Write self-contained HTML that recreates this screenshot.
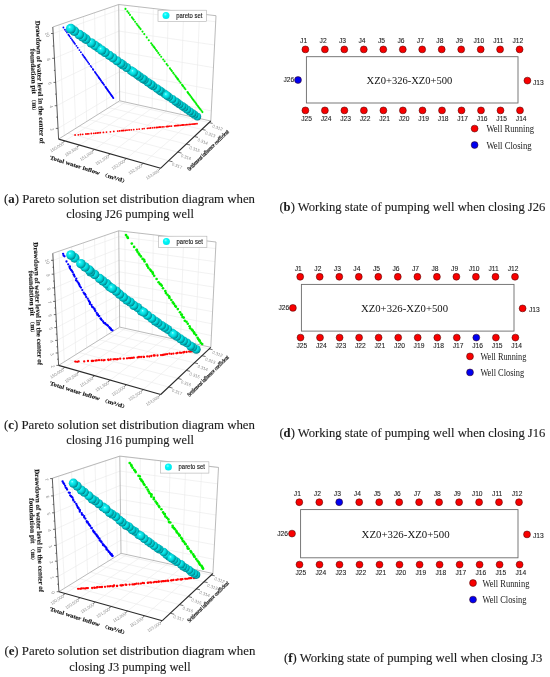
<!DOCTYPE html>
<html><head><meta charset="utf-8"><title>Pareto solution sets and pumping well states</title>
<style>html,body{margin:0;padding:0;background:#fff;}body{width:550px;height:677px;overflow:hidden;}svg{display:block;}</style>
</head><body>
<svg width="550" height="677" viewBox="0 0 550 677">
<rect width="550" height="677" fill="#fff"/>
<defs>
<radialGradient id="sph" cx="0.42" cy="0.4" r="0.62" fx="0.36" fy="0.32">
<stop offset="0" stop-color="#b0ffff"/><stop offset="0.22" stop-color="#18f2f4"/><stop offset="0.6" stop-color="#00d4d8"/><stop offset="0.86" stop-color="#009ca4"/><stop offset="1" stop-color="#00747c"/>
</radialGradient>
<radialGradient id="sph2" cx="0.4" cy="0.35" r="0.7">
<stop offset="0" stop-color="#80ffff"/><stop offset="0.35" stop-color="#00f8f8"/><stop offset="1" stop-color="#00e4ea"/>
</radialGradient>
</defs>
<g stroke="#eaeaea" stroke-width="0.6"><line x1="53.2" y1="33.5" x2="118.7" y2="10.0" /><line x1="118.7" y1="10.0" x2="215.7" y2="21.8" /><line x1="54.4" y1="58.3" x2="119.0" y2="31.1" /><line x1="119.0" y1="31.1" x2="214.5" y2="45.0" /><line x1="55.7" y1="82.4" x2="119.2" y2="51.8" /><line x1="119.2" y1="51.8" x2="213.4" y2="67.6" /><line x1="56.9" y1="105.7" x2="119.4" y2="71.9" /><line x1="119.4" y1="71.9" x2="212.3" y2="89.6" /><line x1="58.0" y1="128.4" x2="119.6" y2="91.5" /><line x1="119.6" y1="91.5" x2="211.3" y2="110.9" /><line x1="125.5" y1="102.1" x2="124.9" y2="5.2" /><line x1="125.5" y1="102.1" x2="65.0" y2="140.9" /><line x1="138.7" y1="105.0" x2="138.9" y2="6.8" /><line x1="138.7" y1="105.0" x2="79.6" y2="145.1" /><line x1="152.2" y1="108.0" x2="153.3" y2="8.5" /><line x1="152.2" y1="108.0" x2="94.7" y2="149.4" /><line x1="166.2" y1="111.1" x2="168.2" y2="10.2" /><line x1="166.2" y1="111.1" x2="110.3" y2="153.8" /><line x1="180.6" y1="114.3" x2="183.6" y2="12.0" /><line x1="180.6" y1="114.3" x2="126.5" y2="158.4" /><line x1="195.5" y1="117.6" x2="199.5" y2="13.8" /><line x1="195.5" y1="117.6" x2="143.3" y2="163.2" /><line x1="117.6" y1="102.1" x2="209.1" y2="122.6" /><line x1="108.7" y1="107.6" x2="201.9" y2="129.4" /><line x1="99.4" y1="113.5" x2="194.4" y2="136.5" /><line x1="89.5" y1="119.7" x2="186.3" y2="144.1" /><line x1="79.1" y1="126.2" x2="177.7" y2="152.1" /><line x1="68.1" y1="133.2" x2="168.6" y2="160.7" /><line x1="116.0" y1="103.1" x2="114.8" y2="5.8" /><line x1="106.8" y1="108.9" x2="104.9" y2="9.2" /><line x1="97.0" y1="115.0" x2="94.5" y2="12.8" /><line x1="86.7" y1="121.4" x2="83.4" y2="16.6" /><line x1="75.8" y1="128.3" x2="71.6" y2="20.6" /><line x1="64.3" y1="135.6" x2="59.0" y2="24.9" /></g>
<g stroke="#a4a4a4" stroke-width="0.75"><line x1="52.8" y1="27.0" x2="118.7" y2="4.5" /><line x1="118.7" y1="4.5" x2="216.0" y2="15.7" /><line x1="216.0" y1="15.7" x2="210.8" y2="121.0" /><line x1="119.7" y1="100.8" x2="118.7" y2="4.5" /><line x1="119.7" y1="100.8" x2="58.6" y2="139.1" /><line x1="119.7" y1="100.8" x2="210.8" y2="121.0" /></g>
<line x1="58.6" y1="139.1" x2="52.8" y2="27.0" stroke="#4a4a4a" stroke-width="0.9"/>
<line x1="58.6" y1="139.1" x2="160.7" y2="168.2" stroke="#2a2a2a" stroke-width="1.1"/>
<line x1="160.7" y1="168.2" x2="210.8" y2="121.0" stroke="#2a2a2a" stroke-width="1.1"/>
<g stroke="#333" stroke-width="0.7"><line x1="51.0" y1="33.5" x2="53.2" y2="33.5"/><line x1="52.2" y1="58.3" x2="54.4" y2="58.3"/><line x1="53.5" y1="82.4" x2="55.7" y2="82.4"/><line x1="54.7" y1="105.7" x2="56.9" y2="105.7"/><line x1="55.8" y1="128.4" x2="58.0" y2="128.4"/><line x1="56.2" y1="117.1" x2="57.4" y2="117.1"/><line x1="55.1" y1="94.1" x2="56.3" y2="94.1"/><line x1="53.9" y1="70.4" x2="55.1" y2="70.4"/><line x1="52.6" y1="46.0" x2="53.8" y2="46.0"/><line x1="65.0" y1="140.9" x2="62.5" y2="142.6"/><line x1="79.6" y1="145.1" x2="77.1" y2="146.8"/><line x1="94.7" y1="149.4" x2="92.2" y2="151.1"/><line x1="110.3" y1="153.8" x2="107.9" y2="155.6"/><line x1="126.5" y1="158.4" x2="124.2" y2="160.3"/><line x1="143.3" y1="163.2" x2="141.1" y2="165.1"/><line x1="160.7" y1="168.2" x2="158.6" y2="170.2"/><line x1="209.1" y1="122.6" x2="212.6" y2="123.4"/><line x1="201.9" y1="129.4" x2="205.6" y2="130.2"/><line x1="194.4" y1="136.5" x2="198.0" y2="137.4"/><line x1="186.3" y1="144.1" x2="190.1" y2="145.0"/><line x1="177.7" y1="152.1" x2="181.6" y2="153.1"/><line x1="168.6" y1="160.7" x2="172.6" y2="161.8"/></g>
<g fill="#8c8c8c" font-family="Liberation Sans, sans-serif" font-size="4.3"><text transform="translate(46.0,35.1) rotate(70)" text-anchor="middle" font-size="4.6">10</text><text transform="translate(47.2,59.9) rotate(70)" text-anchor="middle" font-size="4.6">8</text><text transform="translate(48.5,84.0) rotate(70)" text-anchor="middle" font-size="4.6">6</text><text transform="translate(49.7,107.3) rotate(70)" text-anchor="middle" font-size="4.6">4</text><text transform="translate(50.8,130.0) rotate(70)" text-anchor="middle" font-size="4.6">2</text><text transform="translate(64.0,144.5) rotate(-32)" text-anchor="end" textLength="15" lengthAdjust="spacingAndGlyphs">150,000</text><text transform="translate(78.6,148.7) rotate(-32)" text-anchor="end" textLength="15" lengthAdjust="spacingAndGlyphs">150,500</text><text transform="translate(93.7,153.0) rotate(-32)" text-anchor="end" textLength="15" lengthAdjust="spacingAndGlyphs">151,000</text><text transform="translate(109.3,157.4) rotate(-32)" text-anchor="end" textLength="15" lengthAdjust="spacingAndGlyphs">151,500</text><text transform="translate(125.5,162.0) rotate(-32)" text-anchor="end" textLength="15" lengthAdjust="spacingAndGlyphs">152,000</text><text transform="translate(142.3,166.8) rotate(-32)" text-anchor="end" textLength="15" lengthAdjust="spacingAndGlyphs">152,500</text><text transform="translate(159.7,171.8) rotate(-32)" text-anchor="end" textLength="15" lengthAdjust="spacingAndGlyphs">153,000</text><text transform="translate(211.9,127.2) rotate(20)">0.312</text><text transform="translate(204.7,134.0) rotate(20)">0.313</text><text transform="translate(197.2,141.1) rotate(20)">0.314</text><text transform="translate(189.1,148.7) rotate(20)">0.315</text><text transform="translate(180.5,156.7) rotate(20)">0.316</text><text transform="translate(171.4,165.3) rotate(20)">0.317</text></g>
<g font-family="Liberation Serif, Noto Serif CJK SC, serif" font-weight="bold" font-size="6.8" fill="#1a1a1a" stroke="#1a1a1a" stroke-width="0.15"><text transform="translate(35.6,20.8) rotate(88)" textLength="123" lengthAdjust="spacingAndGlyphs">Drawdown of water level in the center of</text><text transform="translate(30.4,48.7) rotate(88)" textLength="65" lengthAdjust="spacingAndGlyphs">foundation pit<tspan font-size="4.8" font-weight="normal" dx="2.5">（</tspan>m<tspan font-size="4.8" font-weight="normal">）</tspan></text><g transform="translate(49.6,159.2) rotate(17.5)" font-size="5.6"><text textLength="52" lengthAdjust="spacingAndGlyphs">Total water inflow</text><text x="54.2" textLength="27.5" lengthAdjust="spacingAndGlyphs"><tspan font-size="4.6" font-weight="normal">（</tspan>m³/d<tspan font-size="4.6" font-weight="normal">）</tspan></text></g><text transform="translate(189.4,171.3) rotate(-44.5)" font-size="6" textLength="56" lengthAdjust="spacingAndGlyphs">Settlement influence coefficient</text></g>
<g fill="#0000ff"><circle cx="63.4" cy="27.5" r="0.9"/><circle cx="64.9" cy="29.7" r="0.9"/><circle cx="67.0" cy="32.6" r="0.9"/><circle cx="68.4" cy="34.7" r="0.9"/><circle cx="69.8" cy="36.6" r="0.9"/><circle cx="72.0" cy="39.7" r="0.9"/><circle cx="73.6" cy="41.9" r="0.9"/><circle cx="75.0" cy="43.9" r="0.9"/><circle cx="76.4" cy="45.8" r="0.9"/><circle cx="77.7" cy="47.7" r="0.9"/><circle cx="79.4" cy="50.1" r="0.9"/><circle cx="80.9" cy="52.2" r="0.9"/><circle cx="82.5" cy="54.5" r="0.9"/><circle cx="84.1" cy="56.8" r="0.9"/><circle cx="85.1" cy="58.1" r="0.9"/><circle cx="86.5" cy="60.1" r="0.9"/><circle cx="88.2" cy="62.6" r="0.9"/><circle cx="89.2" cy="64.0" r="0.9"/><circle cx="90.6" cy="65.9" r="0.9"/><circle cx="91.5" cy="67.1" r="0.9"/><circle cx="92.8" cy="69.0" r="0.9"/><circle cx="93.4" cy="69.9" r="0.9"/><circle cx="94.8" cy="71.8" r="0.9"/><circle cx="96.0" cy="73.6" r="0.9"/><circle cx="96.8" cy="74.7" r="0.9"/><circle cx="98.3" cy="76.8" r="0.9"/><circle cx="99.3" cy="78.2" r="0.9"/><circle cx="99.9" cy="79.1" r="0.9"/><circle cx="101.2" cy="80.9" r="0.9"/><circle cx="102.1" cy="82.2" r="0.9"/><circle cx="102.9" cy="83.2" r="0.9"/><circle cx="104.1" cy="84.9" r="0.9"/><circle cx="105.3" cy="86.6" r="0.9"/><circle cx="105.9" cy="87.5" r="0.9"/><circle cx="106.8" cy="88.8" r="0.9"/><circle cx="107.9" cy="90.2" r="0.9"/><circle cx="108.6" cy="91.3" r="0.9"/><circle cx="109.6" cy="92.7" r="0.9"/><circle cx="110.7" cy="94.2" r="0.9"/><circle cx="111.6" cy="95.5" r="0.9"/><circle cx="112.4" cy="96.6" r="0.9"/><circle cx="113.4" cy="98.1" r="0.9"/><circle cx="66.0" cy="31.1" r="0.9"/><circle cx="69.1" cy="35.6" r="0.9"/><circle cx="70.9" cy="38.2" r="0.9"/><circle cx="72.8" cy="40.8" r="0.9"/><circle cx="74.3" cy="42.9" r="0.9"/><circle cx="83.3" cy="55.7" r="0.9"/><circle cx="84.6" cy="57.4" r="0.9"/><circle cx="85.8" cy="59.1" r="0.9"/><circle cx="87.4" cy="61.3" r="0.9"/><circle cx="95.4" cy="72.7" r="0.9"/><circle cx="97.6" cy="75.7" r="0.9"/><circle cx="98.8" cy="77.5" r="0.9"/><circle cx="99.6" cy="78.6" r="0.9"/><circle cx="100.6" cy="80.0" r="0.9"/><circle cx="102.5" cy="82.7" r="0.9"/><circle cx="103.5" cy="84.1" r="0.9"/><circle cx="105.6" cy="87.1" r="0.9"/><circle cx="106.4" cy="88.2" r="0.9"/><circle cx="107.3" cy="89.5" r="0.9"/><circle cx="108.2" cy="90.8" r="0.9"/><circle cx="109.1" cy="92.0" r="0.9"/><circle cx="110.1" cy="93.5" r="0.9"/><circle cx="111.1" cy="94.9" r="0.9"/><circle cx="112.0" cy="96.1" r="0.9"/><circle cx="112.9" cy="97.4" r="0.9"/></g>
<g fill="#00f000"><circle cx="125.5" cy="8.9" r="1.035"/><circle cx="127.4" cy="11.4" r="1.035"/><circle cx="130.0" cy="14.9" r="1.035"/><circle cx="131.9" cy="17.4" r="1.035"/><circle cx="133.7" cy="19.8" r="1.035"/><circle cx="136.6" cy="23.8" r="1.035"/><circle cx="138.7" cy="26.6" r="1.035"/><circle cx="140.6" cy="29.1" r="1.035"/><circle cx="142.5" cy="31.6" r="1.035"/><circle cx="144.3" cy="34.1" r="1.035"/><circle cx="146.7" cy="37.4" r="1.035"/><circle cx="148.8" cy="40.2" r="1.035"/><circle cx="151.2" cy="43.3" r="1.035"/><circle cx="153.5" cy="46.4" r="1.035"/><circle cx="154.9" cy="48.3" r="1.035"/><circle cx="157.0" cy="51.1" r="1.035"/><circle cx="159.6" cy="54.7" r="1.035"/><circle cx="161.2" cy="56.7" r="1.035"/><circle cx="163.2" cy="59.5" r="1.035"/><circle cx="164.6" cy="61.3" r="1.035"/><circle cx="166.6" cy="64.1" r="1.035"/><circle cx="167.7" cy="65.5" r="1.035"/><circle cx="169.9" cy="68.4" r="1.035"/><circle cx="171.9" cy="71.1" r="1.035"/><circle cx="173.2" cy="72.9" r="1.035"/><circle cx="175.6" cy="76.1" r="1.035"/><circle cx="177.3" cy="78.4" r="1.035"/><circle cx="178.3" cy="79.7" r="1.035"/><circle cx="180.5" cy="82.7" r="1.035"/><circle cx="182.0" cy="84.8" r="1.035"/><circle cx="183.3" cy="86.5" r="1.035"/><circle cx="185.4" cy="89.3" r="1.035"/><circle cx="187.5" cy="92.1" r="1.035"/><circle cx="188.7" cy="93.7" r="1.035"/><circle cx="190.3" cy="95.8" r="1.035"/><circle cx="192.1" cy="98.3" r="1.035"/><circle cx="193.5" cy="100.1" r="1.035"/><circle cx="195.4" cy="102.6" r="1.035"/><circle cx="197.2" cy="105.2" r="1.035"/><circle cx="199.0" cy="107.5" r="1.035"/><circle cx="200.5" cy="109.5" r="1.035"/><circle cx="202.4" cy="112.1" r="1.035"/><circle cx="128.7" cy="13.1" r="1.035"/><circle cx="132.8" cy="18.6" r="1.035"/><circle cx="135.1" cy="21.8" r="1.035"/><circle cx="137.6" cy="25.2" r="1.035"/><circle cx="139.6" cy="27.8" r="1.035"/><circle cx="152.3" cy="44.9" r="1.035"/><circle cx="154.2" cy="47.3" r="1.035"/><circle cx="155.9" cy="49.7" r="1.035"/><circle cx="158.3" cy="52.9" r="1.035"/><circle cx="170.9" cy="69.7" r="1.035"/><circle cx="174.4" cy="74.5" r="1.035"/><circle cx="176.4" cy="77.2" r="1.035"/><circle cx="177.8" cy="79.1" r="1.035"/><circle cx="179.4" cy="81.2" r="1.035"/><circle cx="182.7" cy="85.6" r="1.035"/><circle cx="184.4" cy="87.9" r="1.035"/><circle cx="188.1" cy="92.9" r="1.035"/><circle cx="189.5" cy="94.7" r="1.035"/><circle cx="191.2" cy="97.1" r="1.035"/><circle cx="192.8" cy="99.2" r="1.035"/><circle cx="194.4" cy="101.4" r="1.035"/><circle cx="196.3" cy="103.9" r="1.035"/><circle cx="198.1" cy="106.4" r="1.035"/><circle cx="199.7" cy="108.5" r="1.035"/><circle cx="201.5" cy="110.8" r="1.035"/></g>
<g fill="#ff0000"><circle cx="75.1" cy="135.0" r="0.9"/><circle cx="78.3" cy="134.8" r="0.9"/><circle cx="82.7" cy="134.3" r="0.9"/><circle cx="85.9" cy="134.0" r="0.9"/><circle cx="88.8" cy="133.8" r="0.9"/><circle cx="93.7" cy="133.3" r="0.9"/><circle cx="97.2" cy="133.0" r="0.9"/><circle cx="100.3" cy="132.7" r="0.9"/><circle cx="103.4" cy="132.4" r="0.9"/><circle cx="106.5" cy="132.1" r="0.9"/><circle cx="110.4" cy="131.8" r="0.9"/><circle cx="113.8" cy="131.4" r="0.9"/><circle cx="117.7" cy="131.1" r="0.9"/><circle cx="121.4" cy="130.7" r="0.9"/><circle cx="123.6" cy="130.5" r="0.9"/><circle cx="127.0" cy="130.2" r="0.9"/><circle cx="131.3" cy="129.8" r="0.9"/><circle cx="133.7" cy="129.6" r="0.9"/><circle cx="136.9" cy="129.3" r="0.9"/><circle cx="139.2" cy="129.1" r="0.9"/><circle cx="142.4" cy="128.8" r="0.9"/><circle cx="144.1" cy="128.6" r="0.9"/><circle cx="147.4" cy="128.3" r="0.9"/><circle cx="150.6" cy="128.0" r="0.9"/><circle cx="152.6" cy="127.8" r="0.9"/><circle cx="156.4" cy="127.5" r="0.9"/><circle cx="159.0" cy="127.2" r="0.9"/><circle cx="160.6" cy="127.1" r="0.9"/><circle cx="163.9" cy="126.8" r="0.9"/><circle cx="166.3" cy="126.6" r="0.9"/><circle cx="168.3" cy="126.4" r="0.9"/><circle cx="171.5" cy="126.1" r="0.9"/><circle cx="174.6" cy="125.8" r="0.9"/><circle cx="176.5" cy="125.6" r="0.9"/><circle cx="178.8" cy="125.4" r="0.9"/><circle cx="181.7" cy="125.1" r="0.9"/><circle cx="183.7" cy="124.9" r="0.9"/><circle cx="186.5" cy="124.7" r="0.9"/><circle cx="189.3" cy="124.4" r="0.9"/><circle cx="192.0" cy="124.2" r="0.9"/><circle cx="194.2" cy="124.0" r="0.9"/><circle cx="197.0" cy="123.7" r="0.9"/><circle cx="80.5" cy="134.5" r="0.9"/><circle cx="87.3" cy="133.9" r="0.9"/><circle cx="91.3" cy="133.5" r="0.9"/><circle cx="95.5" cy="133.2" r="0.9"/><circle cx="98.8" cy="132.8" r="0.9"/><circle cx="119.5" cy="130.9" r="0.9"/><circle cx="122.5" cy="130.6" r="0.9"/><circle cx="125.3" cy="130.4" r="0.9"/><circle cx="129.1" cy="130.0" r="0.9"/><circle cx="149.0" cy="128.2" r="0.9"/><circle cx="154.5" cy="127.7" r="0.9"/><circle cx="157.7" cy="127.4" r="0.9"/><circle cx="159.8" cy="127.2" r="0.9"/><circle cx="162.2" cy="126.9" r="0.9"/><circle cx="167.3" cy="126.5" r="0.9"/><circle cx="169.9" cy="126.2" r="0.9"/><circle cx="175.5" cy="125.7" r="0.9"/><circle cx="177.7" cy="125.5" r="0.9"/><circle cx="180.2" cy="125.3" r="0.9"/><circle cx="182.7" cy="125.0" r="0.9"/><circle cx="185.1" cy="124.8" r="0.9"/><circle cx="187.9" cy="124.6" r="0.9"/><circle cx="190.6" cy="124.3" r="0.9"/><circle cx="193.1" cy="124.1" r="0.9"/><circle cx="195.6" cy="123.8" r="0.9"/></g>
<g fill="url(#sph)"><circle cx="98.3" cy="47.8" r="4.70"/><circle cx="95.0" cy="45.5" r="4.72"/><circle cx="91.2" cy="42.9" r="4.75"/><circle cx="85.9" cy="39.1" r="4.79"/><circle cx="82.7" cy="36.9" r="4.82"/><circle cx="79.2" cy="34.5" r="4.84"/><circle cx="74.3" cy="31.1" r="4.88"/><circle cx="70.8" cy="28.7" r="4.90"/><circle cx="131.1" cy="70.6" r="4.45"/><circle cx="126.6" cy="67.5" r="4.48"/><circle cx="123.1" cy="65.0" r="4.51"/><circle cx="120.8" cy="63.4" r="4.53"/><circle cx="116.9" cy="60.7" r="4.56"/><circle cx="112.8" cy="57.8" r="4.59"/><circle cx="109.2" cy="55.3" r="4.62"/><circle cx="105.0" cy="52.4" r="4.65"/><circle cx="101.7" cy="50.1" r="4.67"/><circle cx="164.5" cy="93.8" r="4.18"/><circle cx="161.2" cy="91.5" r="4.21"/><circle cx="159.6" cy="90.4" r="4.22"/><circle cx="156.9" cy="88.5" r="4.24"/><circle cx="153.1" cy="85.9" r="4.27"/><circle cx="151.0" cy="84.4" r="4.29"/><circle cx="147.8" cy="82.2" r="4.32"/><circle cx="144.4" cy="79.8" r="4.34"/><circle cx="142.6" cy="78.6" r="4.36"/><circle cx="139.3" cy="76.3" r="4.39"/><circle cx="137.0" cy="74.7" r="4.40"/><circle cx="133.6" cy="72.3" r="4.43"/><circle cx="197.3" cy="116.6" r="3.90"/><circle cx="194.5" cy="114.7" r="3.92"/><circle cx="192.4" cy="113.2" r="3.94"/><circle cx="189.8" cy="111.4" r="3.97"/><circle cx="187.0" cy="109.5" r="3.99"/><circle cx="184.3" cy="107.5" r="4.01"/><circle cx="182.2" cy="106.1" r="4.03"/><circle cx="179.4" cy="104.2" r="4.05"/><circle cx="177.1" cy="102.6" r="4.07"/><circle cx="175.3" cy="101.3" r="4.09"/><circle cx="172.2" cy="99.1" r="4.12"/><circle cx="168.9" cy="96.9" r="4.14"/><circle cx="166.9" cy="95.5" r="4.16"/></g>
<rect x="158" y="10.200000000000001" width="48.5" height="11.3" fill="#fff" stroke="#b0b0b0" stroke-width="0.6"/><circle cx="166" cy="15.4" r="3.5" fill="url(#sph2)"/><text x="176.2" y="17.8" font-family="Liberation Sans, sans-serif" font-size="6.8" fill="#151515" stroke="#151515" stroke-width="0.12" textLength="26.2" lengthAdjust="spacingAndGlyphs">pareto set</text>
<g stroke="#eaeaea" stroke-width="0.6"><line x1="53.2" y1="260.3" x2="118.7" y2="236.7" /><line x1="118.7" y1="236.7" x2="215.6" y2="248.6" /><line x1="53.9" y1="274.2" x2="118.9" y2="248.6" /><line x1="118.9" y1="248.6" x2="215.0" y2="261.6" /><line x1="54.6" y1="287.9" x2="119.0" y2="260.3" /><line x1="119.0" y1="260.3" x2="214.4" y2="274.4" /><line x1="55.3" y1="301.4" x2="119.1" y2="271.8" /><line x1="119.1" y1="271.8" x2="213.7" y2="287.1" /><line x1="56.0" y1="314.6" x2="119.2" y2="283.2" /><line x1="119.2" y1="283.2" x2="213.1" y2="299.5" /><line x1="56.6" y1="327.6" x2="119.3" y2="294.4" /><line x1="119.3" y1="294.4" x2="212.5" y2="311.7" /><line x1="57.3" y1="340.4" x2="119.4" y2="305.4" /><line x1="119.4" y1="305.4" x2="211.9" y2="323.8" /><line x1="57.9" y1="353.0" x2="119.6" y2="316.3" /><line x1="119.6" y1="316.3" x2="211.4" y2="335.6" /><line x1="125.5" y1="328.4" x2="124.9" y2="231.5" /><line x1="125.5" y1="328.4" x2="65.0" y2="367.2" /><line x1="138.7" y1="331.3" x2="138.9" y2="233.1" /><line x1="138.7" y1="331.3" x2="79.6" y2="371.4" /><line x1="152.2" y1="334.3" x2="153.3" y2="234.8" /><line x1="152.2" y1="334.3" x2="94.7" y2="375.7" /><line x1="166.2" y1="337.4" x2="168.2" y2="236.5" /><line x1="166.2" y1="337.4" x2="110.3" y2="380.1" /><line x1="180.6" y1="340.6" x2="183.6" y2="238.3" /><line x1="180.6" y1="340.6" x2="126.5" y2="384.7" /><line x1="195.5" y1="343.9" x2="199.5" y2="240.1" /><line x1="195.5" y1="343.9" x2="143.3" y2="389.5" /><line x1="117.6" y1="328.4" x2="209.1" y2="348.9" /><line x1="108.7" y1="333.9" x2="201.9" y2="355.7" /><line x1="99.4" y1="339.8" x2="194.4" y2="362.8" /><line x1="89.5" y1="346.0" x2="186.3" y2="370.4" /><line x1="79.1" y1="352.5" x2="177.7" y2="378.4" /><line x1="68.1" y1="359.5" x2="168.6" y2="387.0" /><line x1="116.0" y1="329.4" x2="114.8" y2="232.1" /><line x1="106.8" y1="335.2" x2="104.9" y2="235.5" /><line x1="97.0" y1="341.3" x2="94.5" y2="239.1" /><line x1="86.7" y1="347.7" x2="83.4" y2="242.9" /><line x1="75.8" y1="354.6" x2="71.6" y2="246.9" /><line x1="64.3" y1="361.8" x2="59.0" y2="251.2" /></g>
<g stroke="#a4a4a4" stroke-width="0.75"><line x1="52.8" y1="253.3" x2="118.7" y2="230.8" /><line x1="118.7" y1="230.8" x2="216.0" y2="242.0" /><line x1="216.0" y1="242.0" x2="210.8" y2="347.3" /><line x1="119.7" y1="327.1" x2="118.7" y2="230.8" /><line x1="119.7" y1="327.1" x2="58.6" y2="365.4" /><line x1="119.7" y1="327.1" x2="210.8" y2="347.3" /></g>
<line x1="58.6" y1="365.4" x2="52.8" y2="253.3" stroke="#4a4a4a" stroke-width="0.9"/>
<line x1="58.6" y1="365.4" x2="160.7" y2="394.5" stroke="#2a2a2a" stroke-width="1.1"/>
<line x1="160.7" y1="394.5" x2="210.8" y2="347.3" stroke="#2a2a2a" stroke-width="1.1"/>
<g stroke="#333" stroke-width="0.7"><line x1="51.0" y1="260.3" x2="53.2" y2="260.3"/><line x1="51.7" y1="274.2" x2="53.9" y2="274.2"/><line x1="52.4" y1="287.9" x2="54.6" y2="287.9"/><line x1="53.1" y1="301.4" x2="55.3" y2="301.4"/><line x1="53.8" y1="314.6" x2="56.0" y2="314.6"/><line x1="54.4" y1="327.6" x2="56.6" y2="327.6"/><line x1="55.1" y1="340.4" x2="57.3" y2="340.4"/><line x1="55.7" y1="353.0" x2="57.9" y2="353.0"/><line x1="56.4" y1="365.4" x2="58.6" y2="365.4"/><line x1="57.1" y1="359.2" x2="58.3" y2="359.2"/><line x1="56.4" y1="346.8" x2="57.6" y2="346.8"/><line x1="55.8" y1="334.1" x2="57.0" y2="334.1"/><line x1="55.1" y1="321.2" x2="56.3" y2="321.2"/><line x1="54.4" y1="308.0" x2="55.6" y2="308.0"/><line x1="53.8" y1="294.7" x2="55.0" y2="294.7"/><line x1="53.1" y1="281.1" x2="54.3" y2="281.1"/><line x1="52.4" y1="267.3" x2="53.6" y2="267.3"/><line x1="65.0" y1="367.2" x2="62.5" y2="368.9"/><line x1="79.6" y1="371.4" x2="77.1" y2="373.1"/><line x1="94.7" y1="375.7" x2="92.2" y2="377.4"/><line x1="110.3" y1="380.1" x2="107.9" y2="381.9"/><line x1="126.5" y1="384.7" x2="124.2" y2="386.6"/><line x1="143.3" y1="389.5" x2="141.1" y2="391.4"/><line x1="160.7" y1="394.5" x2="158.6" y2="396.5"/><line x1="209.1" y1="348.9" x2="212.6" y2="349.7"/><line x1="201.9" y1="355.7" x2="205.6" y2="356.5"/><line x1="194.4" y1="362.8" x2="198.0" y2="363.7"/><line x1="186.3" y1="370.4" x2="190.1" y2="371.3"/><line x1="177.7" y1="378.4" x2="181.6" y2="379.4"/><line x1="168.6" y1="387.0" x2="172.6" y2="388.1"/></g>
<g fill="#8c8c8c" font-family="Liberation Sans, sans-serif" font-size="4.3"><text transform="translate(46.0,261.9) rotate(70)" text-anchor="middle" font-size="4.6">10</text><text transform="translate(46.7,275.8) rotate(70)" text-anchor="middle" font-size="4.6">9</text><text transform="translate(47.4,289.5) rotate(70)" text-anchor="middle" font-size="4.6">8</text><text transform="translate(48.1,303.0) rotate(70)" text-anchor="middle" font-size="4.6">7</text><text transform="translate(48.8,316.2) rotate(70)" text-anchor="middle" font-size="4.6">6</text><text transform="translate(49.4,329.2) rotate(70)" text-anchor="middle" font-size="4.6">5</text><text transform="translate(50.1,342.0) rotate(70)" text-anchor="middle" font-size="4.6">4</text><text transform="translate(50.7,354.6) rotate(70)" text-anchor="middle" font-size="4.6">3</text><text transform="translate(51.4,367.0) rotate(70)" text-anchor="middle" font-size="4.6">2</text><text transform="translate(64.0,370.8) rotate(-32)" text-anchor="end" textLength="15" lengthAdjust="spacingAndGlyphs">150,000</text><text transform="translate(78.6,375.0) rotate(-32)" text-anchor="end" textLength="15" lengthAdjust="spacingAndGlyphs">150,500</text><text transform="translate(93.7,379.3) rotate(-32)" text-anchor="end" textLength="15" lengthAdjust="spacingAndGlyphs">151,000</text><text transform="translate(109.3,383.7) rotate(-32)" text-anchor="end" textLength="15" lengthAdjust="spacingAndGlyphs">151,500</text><text transform="translate(125.5,388.3) rotate(-32)" text-anchor="end" textLength="15" lengthAdjust="spacingAndGlyphs">152,000</text><text transform="translate(142.3,393.1) rotate(-32)" text-anchor="end" textLength="15" lengthAdjust="spacingAndGlyphs">152,500</text><text transform="translate(159.7,398.1) rotate(-32)" text-anchor="end" textLength="15" lengthAdjust="spacingAndGlyphs">153,000</text><text transform="translate(211.9,353.5) rotate(20)">0.312</text><text transform="translate(204.7,360.3) rotate(20)">0.313</text><text transform="translate(197.2,367.4) rotate(20)">0.314</text><text transform="translate(189.1,375.0) rotate(20)">0.315</text><text transform="translate(180.5,383.0) rotate(20)">0.316</text><text transform="translate(171.4,391.6) rotate(20)">0.317</text></g>
<g font-family="Liberation Serif, Noto Serif CJK SC, serif" font-weight="bold" font-size="6.8" fill="#1a1a1a" stroke="#1a1a1a" stroke-width="0.15"><text transform="translate(33.6,242.3) rotate(88)" textLength="123" lengthAdjust="spacingAndGlyphs">Drawdown of water level in the center of</text><text transform="translate(28.8,270.7) rotate(88)" textLength="65" lengthAdjust="spacingAndGlyphs">foundation pit<tspan font-size="4.8" font-weight="normal" dx="2.5">（</tspan>m<tspan font-size="4.8" font-weight="normal">）</tspan></text><g transform="translate(49.6,384.9) rotate(17.5)" font-size="5.6"><text textLength="52" lengthAdjust="spacingAndGlyphs">Total water inflow</text><text x="54.2" textLength="27.5" lengthAdjust="spacingAndGlyphs"><tspan font-size="4.6" font-weight="normal">（</tspan>m³/d<tspan font-size="4.6" font-weight="normal">）</tspan></text></g><text transform="translate(189.4,397.0) rotate(-44.5)" font-size="6" textLength="56" lengthAdjust="spacingAndGlyphs">Settlement influence coefficient</text></g>
<g fill="#0000ff"><circle cx="63.1" cy="253.8" r="1.15"/><circle cx="64.5" cy="256.3" r="1.15"/><circle cx="66.5" cy="261.5" r="1.15"/><circle cx="68.2" cy="264.3" r="1.15"/><circle cx="69.5" cy="267.0" r="1.15"/><circle cx="70.0" cy="268.5" r="1.15"/><circle cx="71.8" cy="270.8" r="1.15"/><circle cx="73.5" cy="274.3" r="1.15"/><circle cx="74.6" cy="276.5" r="1.15"/><circle cx="76.3" cy="278.7" r="1.15"/><circle cx="77.3" cy="281.5" r="1.15"/><circle cx="78.3" cy="282.8" r="1.15"/><circle cx="79.4" cy="284.9" r="1.15"/><circle cx="81.0" cy="287.6" r="1.15"/><circle cx="82.3" cy="290.1" r="1.15"/><circle cx="83.6" cy="292.6" r="1.15"/><circle cx="84.8" cy="294.0" r="1.15"/><circle cx="86.2" cy="296.9" r="1.15"/><circle cx="87.7" cy="298.6" r="1.15"/><circle cx="89.1" cy="301.4" r="1.15"/><circle cx="90.0" cy="302.4" r="1.15"/><circle cx="91.5" cy="305.0" r="1.15"/><circle cx="93.1" cy="307.4" r="1.15"/><circle cx="94.6" cy="309.5" r="1.15"/><circle cx="95.3" cy="311.0" r="1.15"/><circle cx="96.7" cy="312.9" r="1.15"/><circle cx="98.0" cy="314.5" r="1.15"/><circle cx="99.3" cy="316.1" r="1.15"/><circle cx="100.8" cy="318.8" r="1.15"/><circle cx="101.7" cy="320.0" r="1.15"/><circle cx="103.1" cy="321.4" r="1.15"/><circle cx="105.0" cy="323.1" r="1.15"/><circle cx="106.3" cy="324.6" r="1.15"/><circle cx="108.0" cy="325.8" r="1.15"/><circle cx="109.8" cy="328.1" r="1.15"/><circle cx="110.9" cy="328.9" r="1.15"/><circle cx="112.5" cy="330.3" r="1.15"/><circle cx="63.6" cy="255.4" r="1.15"/><circle cx="69.9" cy="266.5" r="1.15"/><circle cx="71.1" cy="269.9" r="1.15"/><circle cx="72.7" cy="272.2" r="1.15"/><circle cx="74.0" cy="275.0" r="1.15"/><circle cx="76.0" cy="280.3" r="1.15"/><circle cx="78.9" cy="283.9" r="1.15"/><circle cx="79.9" cy="286.3" r="1.15"/><circle cx="84.4" cy="293.8" r="1.15"/><circle cx="85.5" cy="294.9" r="1.15"/><circle cx="88.6" cy="300.3" r="1.15"/><circle cx="89.9" cy="303.9" r="1.15"/><circle cx="92.0" cy="306.8" r="1.15"/><circle cx="94.3" cy="308.6" r="1.15"/><circle cx="97.3" cy="314.8" r="1.15"/><circle cx="98.8" cy="316.1" r="1.15"/><circle cx="100.6" cy="318.4" r="1.15"/><circle cx="103.8" cy="322.8" r="1.15"/><circle cx="105.3" cy="323.8" r="1.15"/><circle cx="107.3" cy="325.1" r="1.15"/><circle cx="109.3" cy="327.2" r="1.15"/><circle cx="110.4" cy="328.5" r="1.15"/><circle cx="111.4" cy="330.1" r="1.15"/></g>
<g fill="#00f000"><circle cx="126.0" cy="235.1" r="1.3224999999999998"/><circle cx="127.9" cy="238.0" r="1.3224999999999998"/><circle cx="131.8" cy="243.6" r="1.3224999999999998"/><circle cx="134.1" cy="246.9" r="1.3224999999999998"/><circle cx="136.7" cy="250.0" r="1.3224999999999998"/><circle cx="137.5" cy="251.7" r="1.3224999999999998"/><circle cx="139.5" cy="254.7" r="1.3224999999999998"/><circle cx="142.6" cy="258.9" r="1.3224999999999998"/><circle cx="144.6" cy="261.5" r="1.3224999999999998"/><circle cx="146.7" cy="264.5" r="1.3224999999999998"/><circle cx="148.3" cy="267.7" r="1.3224999999999998"/><circle cx="150.0" cy="269.5" r="1.3224999999999998"/><circle cx="152.6" cy="272.3" r="1.3224999999999998"/><circle cx="154.2" cy="275.8" r="1.3224999999999998"/><circle cx="156.6" cy="279.0" r="1.3224999999999998"/><circle cx="158.6" cy="282.3" r="1.3224999999999998"/><circle cx="160.9" cy="284.5" r="1.3224999999999998"/><circle cx="163.0" cy="288.2" r="1.3224999999999998"/><circle cx="165.3" cy="291.0" r="1.3224999999999998"/><circle cx="167.5" cy="294.7" r="1.3224999999999998"/><circle cx="169.1" cy="296.4" r="1.3224999999999998"/><circle cx="171.3" cy="300.0" r="1.3224999999999998"/><circle cx="173.9" cy="303.7" r="1.3224999999999998"/><circle cx="175.9" cy="306.8" r="1.3224999999999998"/><circle cx="177.8" cy="309.1" r="1.3224999999999998"/><circle cx="180.0" cy="312.2" r="1.3224999999999998"/><circle cx="181.9" cy="314.8" r="1.3224999999999998"/><circle cx="183.7" cy="317.6" r="1.3224999999999998"/><circle cx="186.5" cy="321.7" r="1.3224999999999998"/><circle cx="187.8" cy="323.7" r="1.3224999999999998"/><circle cx="189.6" cy="326.2" r="1.3224999999999998"/><circle cx="191.8" cy="329.6" r="1.3224999999999998"/><circle cx="194.0" cy="332.4" r="1.3224999999999998"/><circle cx="196.1" cy="335.1" r="1.3224999999999998"/><circle cx="198.5" cy="339.2" r="1.3224999999999998"/><circle cx="199.7" cy="341.0" r="1.3224999999999998"/><circle cx="202.2" cy="344.0" r="1.3224999999999998"/><circle cx="127.3" cy="236.8" r="1.3224999999999998"/><circle cx="136.8" cy="249.8" r="1.3224999999999998"/><circle cx="138.8" cy="253.5" r="1.3224999999999998"/><circle cx="140.9" cy="256.4" r="1.3224999999999998"/><circle cx="144.1" cy="259.8" r="1.3224999999999998"/><circle cx="147.4" cy="266.0" r="1.3224999999999998"/><circle cx="151.1" cy="270.9" r="1.3224999999999998"/><circle cx="152.9" cy="273.8" r="1.3224999999999998"/><circle cx="159.9" cy="283.9" r="1.3224999999999998"/><circle cx="161.8" cy="285.8" r="1.3224999999999998"/><circle cx="165.9" cy="293.1" r="1.3224999999999998"/><circle cx="169.5" cy="297.9" r="1.3224999999999998"/><circle cx="172.8" cy="302.4" r="1.3224999999999998"/><circle cx="175.1" cy="305.7" r="1.3224999999999998"/><circle cx="181.3" cy="314.6" r="1.3224999999999998"/><circle cx="182.5" cy="317.0" r="1.3224999999999998"/><circle cx="184.8" cy="320.8" r="1.3224999999999998"/><circle cx="190.2" cy="328.2" r="1.3224999999999998"/><circle cx="192.7" cy="330.6" r="1.3224999999999998"/><circle cx="194.4" cy="333.6" r="1.3224999999999998"/><circle cx="197.6" cy="337.7" r="1.3224999999999998"/><circle cx="199.4" cy="340.2" r="1.3224999999999998"/><circle cx="200.7" cy="342.8" r="1.3224999999999998"/></g>
<g fill="#ff0000"><circle cx="75.3" cy="361.6" r="1.15"/><circle cx="78.6" cy="361.4" r="1.15"/><circle cx="84.2" cy="361.4" r="1.15"/><circle cx="88.0" cy="361.0" r="1.15"/><circle cx="91.8" cy="361.0" r="1.15"/><circle cx="93.1" cy="360.9" r="1.15"/><circle cx="96.8" cy="360.4" r="1.15"/><circle cx="101.5" cy="360.2" r="1.15"/><circle cx="104.6" cy="360.1" r="1.15"/><circle cx="108.1" cy="359.6" r="1.15"/><circle cx="110.7" cy="359.5" r="1.15"/><circle cx="113.4" cy="359.3" r="1.15"/><circle cx="117.0" cy="359.3" r="1.15"/><circle cx="120.2" cy="358.7" r="1.15"/><circle cx="123.8" cy="358.6" r="1.15"/><circle cx="127.0" cy="358.3" r="1.15"/><circle cx="130.4" cy="358.1" r="1.15"/><circle cx="133.8" cy="357.7" r="1.15"/><circle cx="137.6" cy="357.4" r="1.15"/><circle cx="141.1" cy="357.0" r="1.15"/><circle cx="143.5" cy="356.8" r="1.15"/><circle cx="147.2" cy="356.4" r="1.15"/><circle cx="151.3" cy="356.0" r="1.15"/><circle cx="154.7" cy="355.5" r="1.15"/><circle cx="157.5" cy="355.5" r="1.15"/><circle cx="161.0" cy="355.1" r="1.15"/><circle cx="164.0" cy="354.7" r="1.15"/><circle cx="167.1" cy="354.2" r="1.15"/><circle cx="171.4" cy="353.9" r="1.15"/><circle cx="173.4" cy="353.6" r="1.15"/><circle cx="176.3" cy="353.3" r="1.15"/><circle cx="179.9" cy="352.7" r="1.15"/><circle cx="183.2" cy="352.5" r="1.15"/><circle cx="186.6" cy="352.0" r="1.15"/><circle cx="190.4" cy="351.5" r="1.15"/><circle cx="192.5" cy="351.1" r="1.15"/><circle cx="196.2" cy="350.7" r="1.15"/><circle cx="77.1" cy="361.8" r="1.15"/><circle cx="92.3" cy="360.8" r="1.15"/><circle cx="95.4" cy="360.6" r="1.15"/><circle cx="99.0" cy="360.2" r="1.15"/><circle cx="103.5" cy="360.3" r="1.15"/><circle cx="108.7" cy="360.0" r="1.15"/><circle cx="115.0" cy="359.2" r="1.15"/><circle cx="117.8" cy="359.1" r="1.15"/><circle cx="129.0" cy="358.1" r="1.15"/><circle cx="132.0" cy="357.9" r="1.15"/><circle cx="139.0" cy="357.0" r="1.15"/><circle cx="144.0" cy="357.0" r="1.15"/><circle cx="149.3" cy="356.5" r="1.15"/><circle cx="153.7" cy="355.5" r="1.15"/><circle cx="162.8" cy="355.0" r="1.15"/><circle cx="165.5" cy="354.3" r="1.15"/><circle cx="169.4" cy="353.6" r="1.15"/><circle cx="177.5" cy="353.0" r="1.15"/><circle cx="181.1" cy="352.8" r="1.15"/><circle cx="184.4" cy="352.0" r="1.15"/><circle cx="189.1" cy="351.6" r="1.15"/><circle cx="191.8" cy="351.4" r="1.15"/><circle cx="193.8" cy="351.1" r="1.15"/></g>
<g fill="url(#sph)"><circle cx="74.7" cy="257.9" r="4.79"/><circle cx="71.0" cy="255.0" r="4.80"/><circle cx="109.5" cy="286.8" r="4.68"/><circle cx="106.7" cy="283.7" r="4.69"/><circle cx="102.9" cy="281.0" r="4.70"/><circle cx="99.6" cy="278.5" r="4.71"/><circle cx="94.6" cy="274.4" r="4.73"/><circle cx="90.6" cy="271.8" r="4.74"/><circle cx="89.2" cy="270.0" r="4.74"/><circle cx="85.0" cy="266.9" r="4.76"/><circle cx="80.9" cy="263.7" r="4.77"/><circle cx="141.3" cy="310.9" r="4.58"/><circle cx="137.6" cy="307.6" r="4.59"/><circle cx="133.8" cy="305.4" r="4.60"/><circle cx="130.2" cy="302.0" r="4.62"/><circle cx="126.7" cy="300.1" r="4.63"/><circle cx="123.3" cy="297.2" r="4.64"/><circle cx="119.5" cy="294.2" r="4.65"/><circle cx="116.2" cy="291.1" r="4.66"/><circle cx="112.3" cy="288.5" r="4.67"/><circle cx="171.9" cy="332.9" r="4.48"/><circle cx="167.7" cy="329.4" r="4.49"/><circle cx="164.5" cy="327.4" r="4.50"/><circle cx="161.5" cy="325.4" r="4.51"/><circle cx="157.9" cy="322.9" r="4.53"/><circle cx="155.1" cy="321.0" r="4.53"/><circle cx="151.7" cy="318.4" r="4.55"/><circle cx="147.5" cy="315.4" r="4.56"/><circle cx="143.8" cy="312.3" r="4.57"/><circle cx="196.3" cy="349.3" r="4.40"/><circle cx="192.7" cy="347.2" r="4.41"/><circle cx="190.6" cy="346.0" r="4.42"/><circle cx="186.9" cy="342.9" r="4.43"/><circle cx="183.5" cy="341.0" r="4.44"/><circle cx="180.4" cy="338.8" r="4.45"/><circle cx="176.7" cy="336.3" r="4.46"/><circle cx="173.9" cy="334.4" r="4.47"/></g>
<rect x="158.4" y="236.20000000000002" width="48.5" height="11.3" fill="#fff" stroke="#b0b0b0" stroke-width="0.6"/><circle cx="166.4" cy="241.4" r="3.5" fill="url(#sph2)"/><text x="176.6" y="243.8" font-family="Liberation Sans, sans-serif" font-size="6.8" fill="#151515" stroke="#151515" stroke-width="0.12" textLength="26.2" lengthAdjust="spacingAndGlyphs">pareto set</text>
<g stroke="#eaeaea" stroke-width="0.6"><line x1="52.3" y1="478.6" x2="119.8" y2="456.4" /><line x1="119.8" y1="456.4" x2="218.5" y2="467.7" /><line x1="53.3" y1="495.9" x2="120.0" y2="471.1" /><line x1="120.0" y1="471.1" x2="217.6" y2="483.8" /><line x1="54.3" y1="512.8" x2="120.2" y2="485.4" /><line x1="120.2" y1="485.4" x2="216.8" y2="499.5" /><line x1="55.2" y1="529.3" x2="120.3" y2="499.5" /><line x1="120.3" y1="499.5" x2="216.0" y2="515.0" /><line x1="56.2" y1="545.4" x2="120.5" y2="513.3" /><line x1="120.5" y1="513.3" x2="215.2" y2="530.0" /><line x1="57.1" y1="561.2" x2="120.7" y2="526.9" /><line x1="120.7" y1="526.9" x2="214.4" y2="544.8" /><line x1="58.0" y1="576.6" x2="120.9" y2="540.2" /><line x1="120.9" y1="540.2" x2="213.6" y2="559.3" /><line x1="126.9" y1="554.6" x2="126.1" y2="456.8" /><line x1="126.9" y1="554.6" x2="65.4" y2="593.5" /><line x1="140.2" y1="557.5" x2="140.3" y2="458.4" /><line x1="140.2" y1="557.5" x2="80.2" y2="597.7" /><line x1="153.9" y1="560.5" x2="155.0" y2="460.1" /><line x1="153.9" y1="560.5" x2="95.4" y2="602.0" /><line x1="168.0" y1="563.6" x2="170.1" y2="461.8" /><line x1="168.0" y1="563.6" x2="111.3" y2="606.4" /><line x1="182.5" y1="566.8" x2="185.7" y2="463.6" /><line x1="182.5" y1="566.8" x2="127.7" y2="611.0" /><line x1="197.4" y1="570.1" x2="201.8" y2="465.4" /><line x1="197.4" y1="570.1" x2="144.6" y2="615.8" /><line x1="118.9" y1="554.6" x2="211.2" y2="575.1" /><line x1="109.9" y1="560.2" x2="204.0" y2="581.8" /><line x1="100.4" y1="566.0" x2="196.3" y2="588.9" /><line x1="90.4" y1="572.2" x2="188.2" y2="596.5" /><line x1="79.8" y1="578.8" x2="179.5" y2="604.6" /><line x1="68.6" y1="585.7" x2="170.3" y2="613.2" /><line x1="117.3" y1="555.6" x2="115.8" y2="457.4" /><line x1="107.9" y1="561.4" x2="105.7" y2="460.7" /><line x1="98.1" y1="567.5" x2="95.0" y2="464.2" /><line x1="87.6" y1="574.0" x2="83.7" y2="467.9" /><line x1="76.5" y1="580.8" x2="71.6" y2="471.9" /><line x1="64.7" y1="588.1" x2="58.6" y2="476.1" /></g>
<g stroke="#a4a4a4" stroke-width="0.75"><line x1="52.3" y1="478.2" x2="119.8" y2="456.1" /><line x1="119.8" y1="456.1" x2="218.5" y2="467.4" /><line x1="218.5" y1="467.4" x2="212.9" y2="573.5" /><line x1="121.0" y1="553.3" x2="119.8" y2="456.1" /><line x1="121.0" y1="553.3" x2="58.9" y2="591.7" /><line x1="121.0" y1="553.3" x2="212.9" y2="573.5" /></g>
<line x1="58.9" y1="591.7" x2="52.3" y2="478.2" stroke="#4a4a4a" stroke-width="0.9"/>
<line x1="58.9" y1="591.7" x2="162.3" y2="620.7" stroke="#2a2a2a" stroke-width="1.1"/>
<line x1="162.3" y1="620.7" x2="212.9" y2="573.5" stroke="#2a2a2a" stroke-width="1.1"/>
<g stroke="#333" stroke-width="0.7"><line x1="50.1" y1="478.6" x2="52.3" y2="478.6"/><line x1="51.1" y1="495.9" x2="53.3" y2="495.9"/><line x1="52.1" y1="512.8" x2="54.3" y2="512.8"/><line x1="53.0" y1="529.3" x2="55.2" y2="529.3"/><line x1="54.0" y1="545.4" x2="56.2" y2="545.4"/><line x1="54.9" y1="561.2" x2="57.1" y2="561.2"/><line x1="55.8" y1="576.6" x2="58.0" y2="576.6"/><line x1="56.7" y1="591.7" x2="58.9" y2="591.7"/><line x1="57.2" y1="584.2" x2="58.4" y2="584.2"/><line x1="56.4" y1="568.9" x2="57.6" y2="568.9"/><line x1="55.4" y1="553.3" x2="56.6" y2="553.3"/><line x1="54.5" y1="537.4" x2="55.7" y2="537.4"/><line x1="53.6" y1="521.1" x2="54.8" y2="521.1"/><line x1="52.6" y1="504.4" x2="53.8" y2="504.4"/><line x1="51.6" y1="487.3" x2="52.8" y2="487.3"/><line x1="65.4" y1="593.5" x2="62.8" y2="595.2"/><line x1="80.2" y1="597.7" x2="77.6" y2="599.4"/><line x1="95.4" y1="602.0" x2="93.0" y2="603.7"/><line x1="111.3" y1="606.4" x2="108.9" y2="608.2"/><line x1="127.7" y1="611.0" x2="125.3" y2="612.9"/><line x1="144.6" y1="615.8" x2="142.4" y2="617.7"/><line x1="162.3" y1="620.7" x2="160.1" y2="622.7"/><line x1="211.2" y1="575.1" x2="214.7" y2="575.8"/><line x1="204.0" y1="581.8" x2="207.6" y2="582.6"/><line x1="196.3" y1="588.9" x2="200.0" y2="589.8"/><line x1="188.2" y1="596.5" x2="192.0" y2="597.5"/><line x1="179.5" y1="604.6" x2="183.4" y2="605.6"/><line x1="170.3" y1="613.2" x2="174.3" y2="614.3"/></g>
<g fill="#8c8c8c" font-family="Liberation Sans, sans-serif" font-size="4.3"><text transform="translate(45.1,480.2) rotate(70)" text-anchor="middle" font-size="4.6">7</text><text transform="translate(46.1,497.5) rotate(70)" text-anchor="middle" font-size="4.6">6</text><text transform="translate(47.1,514.4) rotate(70)" text-anchor="middle" font-size="4.6">5</text><text transform="translate(48.0,530.9) rotate(70)" text-anchor="middle" font-size="4.6">4</text><text transform="translate(49.0,547.0) rotate(70)" text-anchor="middle" font-size="4.6">3</text><text transform="translate(49.9,562.8) rotate(70)" text-anchor="middle" font-size="4.6">2</text><text transform="translate(50.8,578.2) rotate(70)" text-anchor="middle" font-size="4.6">1</text><text transform="translate(51.7,593.3) rotate(70)" text-anchor="middle" font-size="4.6">0</text><text transform="translate(64.4,597.1) rotate(-32)" text-anchor="end" textLength="15" lengthAdjust="spacingAndGlyphs">150,000</text><text transform="translate(79.2,601.3) rotate(-32)" text-anchor="end" textLength="15" lengthAdjust="spacingAndGlyphs">150,500</text><text transform="translate(94.4,605.6) rotate(-32)" text-anchor="end" textLength="15" lengthAdjust="spacingAndGlyphs">151,000</text><text transform="translate(110.3,610.0) rotate(-32)" text-anchor="end" textLength="15" lengthAdjust="spacingAndGlyphs">151,500</text><text transform="translate(126.7,614.6) rotate(-32)" text-anchor="end" textLength="15" lengthAdjust="spacingAndGlyphs">152,000</text><text transform="translate(143.6,619.4) rotate(-32)" text-anchor="end" textLength="15" lengthAdjust="spacingAndGlyphs">152,500</text><text transform="translate(161.3,624.3) rotate(-32)" text-anchor="end" textLength="15" lengthAdjust="spacingAndGlyphs">153,000</text><text transform="translate(214.0,579.7) rotate(20)">0.312</text><text transform="translate(206.8,586.4) rotate(20)">0.313</text><text transform="translate(199.1,593.5) rotate(20)">0.314</text><text transform="translate(191.0,601.1) rotate(20)">0.315</text><text transform="translate(182.3,609.2) rotate(20)">0.316</text><text transform="translate(173.1,617.8) rotate(20)">0.317</text></g>
<g font-family="Liberation Serif, Noto Serif CJK SC, serif" font-weight="bold" font-size="6.8" fill="#1a1a1a" stroke="#1a1a1a" stroke-width="0.15"><text transform="translate(34.8,469.2) rotate(88)" textLength="123" lengthAdjust="spacingAndGlyphs">Drawdown of water level in the center of</text><text transform="translate(29.2,498.2) rotate(88)" textLength="65" lengthAdjust="spacingAndGlyphs">foundation pit<tspan font-size="4.8" font-weight="normal" dx="2.5">（</tspan>m<tspan font-size="4.8" font-weight="normal">）</tspan></text><g transform="translate(49.6,610.7) rotate(17.5)" font-size="5.6"><text textLength="52" lengthAdjust="spacingAndGlyphs">Total water inflow</text><text x="54.2" textLength="27.5" lengthAdjust="spacingAndGlyphs"><tspan font-size="4.6" font-weight="normal">（</tspan>m³/d<tspan font-size="4.6" font-weight="normal">）</tspan></text></g><text transform="translate(189.4,622.8) rotate(-44.5)" font-size="6" textLength="56" lengthAdjust="spacingAndGlyphs">Settlement influence coefficient</text></g>
<g fill="#0000ff"><circle cx="62.6" cy="481.5" r="1.15"/><circle cx="64.2" cy="484.1" r="1.15"/><circle cx="65.7" cy="487.6" r="1.15"/><circle cx="67.1" cy="489.6" r="1.15"/><circle cx="68.8" cy="492.6" r="1.15"/><circle cx="70.1" cy="495.3" r="1.15"/><circle cx="71.7" cy="496.8" r="1.15"/><circle cx="73.1" cy="499.3" r="1.15"/><circle cx="74.7" cy="502.1" r="1.15"/><circle cx="76.2" cy="503.8" r="1.15"/><circle cx="77.6" cy="507.0" r="1.15"/><circle cx="78.6" cy="508.1" r="1.15"/><circle cx="79.9" cy="510.2" r="1.15"/><circle cx="81.7" cy="513.1" r="1.15"/><circle cx="82.7" cy="514.8" r="1.15"/><circle cx="84.2" cy="517.4" r="1.15"/><circle cx="85.4" cy="518.7" r="1.15"/><circle cx="86.7" cy="521.2" r="1.15"/><circle cx="87.8" cy="522.2" r="1.15"/><circle cx="89.3" cy="524.9" r="1.15"/><circle cx="90.2" cy="525.9" r="1.15"/><circle cx="91.6" cy="528.2" r="1.15"/><circle cx="93.1" cy="530.3" r="1.15"/><circle cx="94.3" cy="531.9" r="1.15"/><circle cx="95.4" cy="533.8" r="1.15"/><circle cx="96.7" cy="535.5" r="1.15"/><circle cx="97.6" cy="536.5" r="1.15"/><circle cx="99.5" cy="538.7" r="1.15"/><circle cx="100.4" cy="540.6" r="1.15"/><circle cx="101.4" cy="542.1" r="1.15"/><circle cx="102.6" cy="543.6" r="1.15"/><circle cx="103.7" cy="544.8" r="1.15"/><circle cx="104.6" cy="546.2" r="1.15"/><circle cx="106.3" cy="548.0" r="1.15"/><circle cx="107.2" cy="549.7" r="1.15"/><circle cx="108.3" cy="550.8" r="1.15"/><circle cx="109.6" cy="552.3" r="1.15"/><circle cx="110.5" cy="554.0" r="1.15"/><circle cx="111.4" cy="555.0" r="1.15"/><circle cx="112.6" cy="556.0" r="1.15"/><circle cx="63.4" cy="483.0" r="1.15"/><circle cx="65.1" cy="485.8" r="1.15"/><circle cx="66.6" cy="488.3" r="1.15"/><circle cx="69.8" cy="492.8" r="1.15"/><circle cx="71.0" cy="496.2" r="1.15"/><circle cx="72.5" cy="497.6" r="1.15"/><circle cx="73.4" cy="500.4" r="1.15"/><circle cx="76.9" cy="505.4" r="1.15"/><circle cx="78.0" cy="507.8" r="1.15"/><circle cx="79.4" cy="509.6" r="1.15"/><circle cx="79.8" cy="511.7" r="1.15"/><circle cx="81.9" cy="514.6" r="1.15"/><circle cx="84.1" cy="516.1" r="1.15"/><circle cx="87.2" cy="522.6" r="1.15"/><circle cx="88.7" cy="524.0" r="1.15"/><circle cx="91.5" cy="528.0" r="1.15"/><circle cx="93.4" cy="531.6" r="1.15"/><circle cx="94.5" cy="532.7" r="1.15"/><circle cx="96.4" cy="534.6" r="1.15"/><circle cx="97.7" cy="536.6" r="1.15"/><circle cx="98.6" cy="538.1" r="1.15"/><circle cx="99.7" cy="540.4" r="1.15"/><circle cx="101.3" cy="541.6" r="1.15"/><circle cx="103.0" cy="545.1" r="1.15"/><circle cx="105.5" cy="546.8" r="1.15"/><circle cx="106.5" cy="549.4" r="1.15"/><circle cx="108.7" cy="551.8" r="1.15"/><circle cx="110.2" cy="553.2" r="1.15"/><circle cx="111.6" cy="554.2" r="1.15"/><circle cx="112.1" cy="555.7" r="1.15"/></g>
<g fill="#00f000"><circle cx="129.7" cy="463.0" r="1.3224999999999998"/><circle cx="131.6" cy="465.9" r="1.3224999999999998"/><circle cx="134.2" cy="469.7" r="1.3224999999999998"/><circle cx="135.7" cy="472.1" r="1.3224999999999998"/><circle cx="138.5" cy="475.7" r="1.3224999999999998"/><circle cx="140.2" cy="478.7" r="1.3224999999999998"/><circle cx="141.6" cy="480.8" r="1.3224999999999998"/><circle cx="143.7" cy="483.8" r="1.3224999999999998"/><circle cx="146.3" cy="487.3" r="1.3224999999999998"/><circle cx="147.7" cy="489.6" r="1.3224999999999998"/><circle cx="149.7" cy="493.3" r="1.3224999999999998"/><circle cx="151.3" cy="495.0" r="1.3224999999999998"/><circle cx="153.8" cy="497.7" r="1.3224999999999998"/><circle cx="155.6" cy="501.5" r="1.3224999999999998"/><circle cx="157.2" cy="503.7" r="1.3224999999999998"/><circle cx="159.3" cy="507.1" r="1.3224999999999998"/><circle cx="161.4" cy="509.2" r="1.3224999999999998"/><circle cx="163.1" cy="512.4" r="1.3224999999999998"/><circle cx="164.8" cy="514.1" r="1.3224999999999998"/><circle cx="166.9" cy="517.7" r="1.3224999999999998"/><circle cx="168.4" cy="519.4" r="1.3224999999999998"/><circle cx="170.3" cy="522.5" r="1.3224999999999998"/><circle cx="172.6" cy="525.7" r="1.3224999999999998"/><circle cx="174.0" cy="528.1" r="1.3224999999999998"/><circle cx="176.4" cy="531.0" r="1.3224999999999998"/><circle cx="178.4" cy="533.7" r="1.3224999999999998"/><circle cx="179.6" cy="535.4" r="1.3224999999999998"/><circle cx="182.1" cy="539.1" r="1.3224999999999998"/><circle cx="184.0" cy="541.8" r="1.3224999999999998"/><circle cx="185.6" cy="544.2" r="1.3224999999999998"/><circle cx="187.3" cy="546.6" r="1.3224999999999998"/><circle cx="188.7" cy="548.8" r="1.3224999999999998"/><circle cx="190.6" cy="551.0" r="1.3224999999999998"/><circle cx="193.2" cy="554.4" r="1.3224999999999998"/><circle cx="194.6" cy="556.9" r="1.3224999999999998"/><circle cx="196.2" cy="559.1" r="1.3224999999999998"/><circle cx="198.6" cy="562.0" r="1.3224999999999998"/><circle cx="200.0" cy="564.7" r="1.3224999999999998"/><circle cx="202.0" cy="566.7" r="1.3224999999999998"/><circle cx="203.1" cy="568.7" r="1.3224999999999998"/><circle cx="131.1" cy="464.7" r="1.3224999999999998"/><circle cx="132.6" cy="467.8" r="1.3224999999999998"/><circle cx="135.0" cy="470.8" r="1.3224999999999998"/><circle cx="139.7" cy="476.3" r="1.3224999999999998"/><circle cx="141.3" cy="479.9" r="1.3224999999999998"/><circle cx="142.8" cy="481.9" r="1.3224999999999998"/><circle cx="144.5" cy="485.0" r="1.3224999999999998"/><circle cx="148.7" cy="491.5" r="1.3224999999999998"/><circle cx="151.4" cy="494.4" r="1.3224999999999998"/><circle cx="151.3" cy="496.6" r="1.3224999999999998"/><circle cx="153.9" cy="499.2" r="1.3224999999999998"/><circle cx="156.7" cy="503.1" r="1.3224999999999998"/><circle cx="158.6" cy="505.7" r="1.3224999999999998"/><circle cx="164.3" cy="514.1" r="1.3224999999999998"/><circle cx="165.4" cy="516.4" r="1.3224999999999998"/><circle cx="169.0" cy="522.1" r="1.3224999999999998"/><circle cx="172.9" cy="527.2" r="1.3224999999999998"/><circle cx="175.0" cy="529.2" r="1.3224999999999998"/><circle cx="176.9" cy="532.4" r="1.3224999999999998"/><circle cx="179.4" cy="535.5" r="1.3224999999999998"/><circle cx="181.2" cy="537.8" r="1.3224999999999998"/><circle cx="182.8" cy="541.0" r="1.3224999999999998"/><circle cx="185.1" cy="543.5" r="1.3224999999999998"/><circle cx="187.8" cy="548.5" r="1.3224999999999998"/><circle cx="191.4" cy="552.4" r="1.3224999999999998"/><circle cx="194.0" cy="556.1" r="1.3224999999999998"/><circle cx="197.5" cy="560.7" r="1.3224999999999998"/><circle cx="199.3" cy="563.4" r="1.3224999999999998"/><circle cx="201.5" cy="565.8" r="1.3224999999999998"/><circle cx="202.6" cy="567.9" r="1.3224999999999998"/></g>
<g fill="#ff0000"><circle cx="78.1" cy="588.8" r="1.15"/><circle cx="81.4" cy="588.5" r="1.15"/><circle cx="85.1" cy="588.5" r="1.15"/><circle cx="87.9" cy="588.1" r="1.15"/><circle cx="92.1" cy="588.0" r="1.15"/><circle cx="94.9" cy="587.8" r="1.15"/><circle cx="97.7" cy="587.2" r="1.15"/><circle cx="101.0" cy="587.1" r="1.15"/><circle cx="105.0" cy="586.8" r="1.15"/><circle cx="107.7" cy="586.4" r="1.15"/><circle cx="110.8" cy="586.1" r="1.15"/><circle cx="113.4" cy="585.9" r="1.15"/><circle cx="117.0" cy="585.9" r="1.15"/><circle cx="120.5" cy="585.3" r="1.15"/><circle cx="122.9" cy="585.2" r="1.15"/><circle cx="126.4" cy="584.8" r="1.15"/><circle cx="129.6" cy="584.6" r="1.15"/><circle cx="132.4" cy="584.4" r="1.15"/><circle cx="135.0" cy="584.1" r="1.15"/><circle cx="138.5" cy="583.7" r="1.15"/><circle cx="140.9" cy="583.6" r="1.15"/><circle cx="144.0" cy="583.2" r="1.15"/><circle cx="147.7" cy="582.8" r="1.15"/><circle cx="150.2" cy="582.4" r="1.15"/><circle cx="153.7" cy="582.3" r="1.15"/><circle cx="156.8" cy="582.0" r="1.15"/><circle cx="158.8" cy="581.7" r="1.15"/><circle cx="163.0" cy="581.2" r="1.15"/><circle cx="165.8" cy="581.0" r="1.15"/><circle cx="168.3" cy="580.8" r="1.15"/><circle cx="171.1" cy="580.4" r="1.15"/><circle cx="173.5" cy="580.0" r="1.15"/><circle cx="176.2" cy="579.9" r="1.15"/><circle cx="180.4" cy="579.4" r="1.15"/><circle cx="182.5" cy="579.2" r="1.15"/><circle cx="185.2" cy="578.8" r="1.15"/><circle cx="188.8" cy="578.4" r="1.15"/><circle cx="191.1" cy="578.2" r="1.15"/><circle cx="194.0" cy="578.0" r="1.15"/><circle cx="196.0" cy="577.5" r="1.15"/><circle cx="80.1" cy="588.8" r="1.15"/><circle cx="83.1" cy="588.3" r="1.15"/><circle cx="86.7" cy="588.2" r="1.15"/><circle cx="94.2" cy="587.7" r="1.15"/><circle cx="96.8" cy="587.5" r="1.15"/><circle cx="99.6" cy="587.1" r="1.15"/><circle cx="102.0" cy="587.0" r="1.15"/><circle cx="109.3" cy="586.3" r="1.15"/><circle cx="113.0" cy="586.4" r="1.15"/><circle cx="114.1" cy="585.5" r="1.15"/><circle cx="117.1" cy="586.0" r="1.15"/><circle cx="121.7" cy="585.5" r="1.15"/><circle cx="125.5" cy="584.7" r="1.15"/><circle cx="134.0" cy="584.4" r="1.15"/><circle cx="136.5" cy="583.7" r="1.15"/><circle cx="142.7" cy="582.9" r="1.15"/><circle cx="148.2" cy="582.7" r="1.15"/><circle cx="151.4" cy="582.6" r="1.15"/><circle cx="155.0" cy="581.8" r="1.15"/><circle cx="158.7" cy="581.6" r="1.15"/><circle cx="161.3" cy="581.5" r="1.15"/><circle cx="164.0" cy="581.2" r="1.15"/><circle cx="167.7" cy="580.7" r="1.15"/><circle cx="172.0" cy="580.3" r="1.15"/><circle cx="177.8" cy="579.5" r="1.15"/><circle cx="181.3" cy="579.5" r="1.15"/><circle cx="187.0" cy="578.8" r="1.15"/><circle cx="190.1" cy="578.2" r="1.15"/><circle cx="193.5" cy="577.7" r="1.15"/><circle cx="195.1" cy="577.7" r="1.15"/></g>
<g fill="url(#sph)"><circle cx="103.0" cy="507.0" r="4.49"/><circle cx="98.7" cy="503.7" r="4.51"/><circle cx="95.1" cy="500.7" r="4.52"/><circle cx="92.1" cy="499.0" r="4.53"/><circle cx="88.9" cy="495.9" r="4.54"/><circle cx="84.3" cy="492.3" r="4.56"/><circle cx="81.2" cy="490.0" r="4.57"/><circle cx="77.1" cy="486.1" r="4.59"/><circle cx="73.4" cy="483.2" r="4.60"/><circle cx="138.5" cy="534.6" r="4.35"/><circle cx="134.9" cy="531.3" r="4.37"/><circle cx="132.1" cy="529.9" r="4.38"/><circle cx="129.2" cy="527.0" r="4.39"/><circle cx="125.8" cy="525.3" r="4.40"/><circle cx="122.2" cy="522.1" r="4.42"/><circle cx="119.6" cy="520.1" r="4.42"/><circle cx="115.9" cy="516.7" r="4.44"/><circle cx="112.1" cy="514.1" r="4.46"/><circle cx="109.4" cy="512.6" r="4.46"/><circle cx="106.0" cy="509.0" r="4.48"/><circle cx="168.9" cy="556.4" r="4.22"/><circle cx="166.3" cy="554.5" r="4.23"/><circle cx="163.6" cy="552.1" r="4.24"/><circle cx="159.3" cy="549.3" r="4.26"/><circle cx="157.3" cy="548.0" r="4.27"/><circle cx="154.0" cy="545.8" r="4.29"/><circle cx="150.6" cy="543.3" r="4.30"/><circle cx="147.9" cy="541.3" r="4.31"/><circle cx="144.2" cy="538.6" r="4.33"/><circle cx="141.0" cy="535.9" r="4.34"/><circle cx="196.2" cy="574.8" r="4.10"/><circle cx="194.1" cy="573.6" r="4.11"/><circle cx="191.3" cy="572.1" r="4.12"/><circle cx="189.1" cy="569.9" r="4.13"/><circle cx="185.6" cy="567.8" r="4.15"/><circle cx="183.0" cy="566.3" r="4.16"/><circle cx="180.9" cy="564.2" r="4.17"/><circle cx="176.7" cy="561.8" r="4.19"/><circle cx="174.0" cy="559.9" r="4.20"/><circle cx="171.6" cy="558.3" r="4.21"/></g>
<rect x="160.4" y="461.8" width="48.5" height="11.3" fill="#fff" stroke="#b0b0b0" stroke-width="0.6"/><circle cx="168.4" cy="467" r="3.5" fill="url(#sph2)"/><text x="178.6" y="469.4" font-family="Liberation Sans, sans-serif" font-size="6.8" fill="#151515" stroke="#151515" stroke-width="0.12" textLength="26.2" lengthAdjust="spacingAndGlyphs">pareto set</text>
<rect x="306.4" y="56.7" width="211.6" height="46.3" fill="none" stroke="#6a6a6a" stroke-width="0.9"/>
<text x="366.6" y="84.0" font-family="Liberation Serif, serif" font-size="10.8" fill="#111" textLength="85.8" lengthAdjust="spacingAndGlyphs">XZ0+326-XZ0+500</text>
<circle cx="305.4" cy="49.4" r="3.45" fill="#f80000" stroke="#3a0000" stroke-width="0.5"/>
<circle cx="324.9" cy="49.4" r="3.45" fill="#f80000" stroke="#3a0000" stroke-width="0.5"/>
<circle cx="344.3" cy="49.4" r="3.45" fill="#f80000" stroke="#3a0000" stroke-width="0.5"/>
<circle cx="363.8" cy="49.4" r="3.45" fill="#f80000" stroke="#3a0000" stroke-width="0.5"/>
<circle cx="383.3" cy="49.4" r="3.45" fill="#f80000" stroke="#3a0000" stroke-width="0.5"/>
<circle cx="402.8" cy="49.4" r="3.45" fill="#f80000" stroke="#3a0000" stroke-width="0.5"/>
<circle cx="422.2" cy="49.4" r="3.45" fill="#f80000" stroke="#3a0000" stroke-width="0.5"/>
<circle cx="441.7" cy="49.4" r="3.45" fill="#f80000" stroke="#3a0000" stroke-width="0.5"/>
<circle cx="461.2" cy="49.4" r="3.45" fill="#f80000" stroke="#3a0000" stroke-width="0.5"/>
<circle cx="480.7" cy="49.4" r="3.45" fill="#f80000" stroke="#3a0000" stroke-width="0.5"/>
<circle cx="500.1" cy="49.4" r="3.45" fill="#f80000" stroke="#3a0000" stroke-width="0.5"/>
<circle cx="519.6" cy="49.4" r="3.45" fill="#f80000" stroke="#3a0000" stroke-width="0.5"/>
<circle cx="305.4" cy="110.4" r="3.45" fill="#f80000" stroke="#3a0000" stroke-width="0.5"/>
<circle cx="324.9" cy="110.4" r="3.45" fill="#f80000" stroke="#3a0000" stroke-width="0.5"/>
<circle cx="344.4" cy="110.4" r="3.45" fill="#f80000" stroke="#3a0000" stroke-width="0.5"/>
<circle cx="363.9" cy="110.4" r="3.45" fill="#f80000" stroke="#3a0000" stroke-width="0.5"/>
<circle cx="383.4" cy="110.4" r="3.45" fill="#f80000" stroke="#3a0000" stroke-width="0.5"/>
<circle cx="402.9" cy="110.4" r="3.45" fill="#f80000" stroke="#3a0000" stroke-width="0.5"/>
<circle cx="422.5" cy="110.4" r="3.45" fill="#f80000" stroke="#3a0000" stroke-width="0.5"/>
<circle cx="442.0" cy="110.4" r="3.45" fill="#f80000" stroke="#3a0000" stroke-width="0.5"/>
<circle cx="461.5" cy="110.4" r="3.45" fill="#f80000" stroke="#3a0000" stroke-width="0.5"/>
<circle cx="481.0" cy="110.4" r="3.45" fill="#f80000" stroke="#3a0000" stroke-width="0.5"/>
<circle cx="500.5" cy="110.4" r="3.45" fill="#f80000" stroke="#3a0000" stroke-width="0.5"/>
<circle cx="520.0" cy="110.4" r="3.45" fill="#f80000" stroke="#3a0000" stroke-width="0.5"/>
<circle cx="298.0" cy="80.0" r="3.45" fill="#0000f0" stroke="#3a0000" stroke-width="0.5"/>
<circle cx="527.4" cy="80.6" r="3.45" fill="#f80000" stroke="#3a0000" stroke-width="0.5"/>
<g font-family="Liberation Sans, sans-serif" font-size="6.7" fill="#1e1e1e" stroke="#1e1e1e" stroke-width="0.1"><text x="303.6" y="43.1" text-anchor="middle">J1</text><text x="323.1" y="43.1" text-anchor="middle">J2</text><text x="342.5" y="43.1" text-anchor="middle">J3</text><text x="362.0" y="43.1" text-anchor="middle">J4</text><text x="381.5" y="43.1" text-anchor="middle">J5</text><text x="401.0" y="43.1" text-anchor="middle">J6</text><text x="420.4" y="43.1" text-anchor="middle">J7</text><text x="439.9" y="43.1" text-anchor="middle">J8</text><text x="459.4" y="43.1" text-anchor="middle">J9</text><text x="478.9" y="43.1" text-anchor="middle">J10</text><text x="498.3" y="43.1" text-anchor="middle">J11</text><text x="517.8" y="43.1" text-anchor="middle">J12</text><text x="306.6" y="120.6" text-anchor="middle">J25</text><text x="326.1" y="120.6" text-anchor="middle">J24</text><text x="345.6" y="120.6" text-anchor="middle">J23</text><text x="365.1" y="120.6" text-anchor="middle">J22</text><text x="384.6" y="120.6" text-anchor="middle">J21</text><text x="404.1" y="120.6" text-anchor="middle">J20</text><text x="423.7" y="120.6" text-anchor="middle">J19</text><text x="443.2" y="120.6" text-anchor="middle">J18</text><text x="462.7" y="120.6" text-anchor="middle">J17</text><text x="482.2" y="120.6" text-anchor="middle">J16</text><text x="501.7" y="120.6" text-anchor="middle">J15</text><text x="521.2" y="120.6" text-anchor="middle">J14</text><text x="294.3" y="82.3" text-anchor="end">J26</text><text x="533.0" y="84.6">J13</text></g>
<circle cx="474.6" cy="128.6" r="3.45" fill="#f80000" stroke="#3a0000" stroke-width="0.5"/>
<circle cx="474.6" cy="145.0" r="3.45" fill="#0000f0" stroke="#3a0000" stroke-width="0.5"/>
<g font-family="Liberation Serif, serif" font-size="9.4" fill="#222"><text x="486.4" y="132.4" textLength="47.6" lengthAdjust="spacingAndGlyphs">Well Running</text><text x="486.4" y="149.0" textLength="45.2" lengthAdjust="spacingAndGlyphs">Well Closing</text></g>
<rect x="301.4" y="284.4" width="212.6" height="46.7" fill="none" stroke="#6a6a6a" stroke-width="0.9"/>
<text x="361.0" y="311.6" font-family="Liberation Serif, serif" font-size="10.8" fill="#111" textLength="87.0" lengthAdjust="spacingAndGlyphs">XZ0+326-XZ0+500</text>
<circle cx="300.2" cy="276.8" r="3.45" fill="#f80000" stroke="#3a0000" stroke-width="0.5"/>
<circle cx="319.7" cy="276.8" r="3.45" fill="#f80000" stroke="#3a0000" stroke-width="0.5"/>
<circle cx="339.3" cy="276.8" r="3.45" fill="#f80000" stroke="#3a0000" stroke-width="0.5"/>
<circle cx="358.8" cy="276.8" r="3.45" fill="#f80000" stroke="#3a0000" stroke-width="0.5"/>
<circle cx="378.3" cy="276.8" r="3.45" fill="#f80000" stroke="#3a0000" stroke-width="0.5"/>
<circle cx="397.8" cy="276.8" r="3.45" fill="#f80000" stroke="#3a0000" stroke-width="0.5"/>
<circle cx="417.4" cy="276.8" r="3.45" fill="#f80000" stroke="#3a0000" stroke-width="0.5"/>
<circle cx="436.9" cy="276.8" r="3.45" fill="#f80000" stroke="#3a0000" stroke-width="0.5"/>
<circle cx="456.4" cy="276.8" r="3.45" fill="#f80000" stroke="#3a0000" stroke-width="0.5"/>
<circle cx="475.9" cy="276.8" r="3.45" fill="#f80000" stroke="#3a0000" stroke-width="0.5"/>
<circle cx="495.5" cy="276.8" r="3.45" fill="#f80000" stroke="#3a0000" stroke-width="0.5"/>
<circle cx="515.0" cy="276.8" r="3.45" fill="#f80000" stroke="#3a0000" stroke-width="0.5"/>
<circle cx="300.5" cy="337.6" r="3.45" fill="#f80000" stroke="#3a0000" stroke-width="0.5"/>
<circle cx="320.0" cy="337.6" r="3.45" fill="#f80000" stroke="#3a0000" stroke-width="0.5"/>
<circle cx="339.6" cy="337.6" r="3.45" fill="#f80000" stroke="#3a0000" stroke-width="0.5"/>
<circle cx="359.1" cy="337.6" r="3.45" fill="#f80000" stroke="#3a0000" stroke-width="0.5"/>
<circle cx="378.6" cy="337.6" r="3.45" fill="#f80000" stroke="#3a0000" stroke-width="0.5"/>
<circle cx="398.2" cy="337.6" r="3.45" fill="#f80000" stroke="#3a0000" stroke-width="0.5"/>
<circle cx="417.7" cy="337.6" r="3.45" fill="#f80000" stroke="#3a0000" stroke-width="0.5"/>
<circle cx="437.3" cy="337.6" r="3.45" fill="#f80000" stroke="#3a0000" stroke-width="0.5"/>
<circle cx="456.8" cy="337.6" r="3.45" fill="#f80000" stroke="#3a0000" stroke-width="0.5"/>
<circle cx="476.3" cy="337.6" r="3.45" fill="#0000f0" stroke="#3a0000" stroke-width="0.5"/>
<circle cx="495.9" cy="337.6" r="3.45" fill="#f80000" stroke="#3a0000" stroke-width="0.5"/>
<circle cx="515.4" cy="337.6" r="3.45" fill="#f80000" stroke="#3a0000" stroke-width="0.5"/>
<circle cx="292.9" cy="307.9" r="3.45" fill="#f80000" stroke="#3a0000" stroke-width="0.5"/>
<circle cx="522.6" cy="308.4" r="3.45" fill="#f80000" stroke="#3a0000" stroke-width="0.5"/>
<g font-family="Liberation Sans, sans-serif" font-size="6.7" fill="#1e1e1e" stroke="#1e1e1e" stroke-width="0.1"><text x="298.3" y="271.0" text-anchor="middle">J1</text><text x="317.9" y="271.0" text-anchor="middle">J2</text><text x="337.4" y="271.0" text-anchor="middle">J3</text><text x="356.9" y="271.0" text-anchor="middle">J4</text><text x="376.5" y="271.0" text-anchor="middle">J5</text><text x="396.0" y="271.0" text-anchor="middle">J6</text><text x="415.5" y="271.0" text-anchor="middle">J7</text><text x="435.0" y="271.0" text-anchor="middle">J8</text><text x="454.6" y="271.0" text-anchor="middle">J9</text><text x="474.1" y="271.0" text-anchor="middle">J10</text><text x="493.6" y="271.0" text-anchor="middle">J11</text><text x="513.1" y="271.0" text-anchor="middle">J12</text><text x="301.8" y="348.2" text-anchor="middle">J25</text><text x="321.3" y="348.2" text-anchor="middle">J24</text><text x="340.9" y="348.2" text-anchor="middle">J23</text><text x="360.4" y="348.2" text-anchor="middle">J22</text><text x="379.9" y="348.2" text-anchor="middle">J21</text><text x="399.5" y="348.2" text-anchor="middle">J20</text><text x="419.0" y="348.2" text-anchor="middle">J19</text><text x="438.6" y="348.2" text-anchor="middle">J18</text><text x="458.1" y="348.2" text-anchor="middle">J17</text><text x="477.6" y="348.2" text-anchor="middle">J16</text><text x="497.2" y="348.2" text-anchor="middle">J15</text><text x="516.7" y="348.2" text-anchor="middle">J14</text><text x="289.3" y="310.2" text-anchor="end">J26</text><text x="529.0" y="312.4">J13</text></g>
<circle cx="470.0" cy="356.4" r="3.45" fill="#f80000" stroke="#3a0000" stroke-width="0.5"/>
<circle cx="470.0" cy="372.4" r="3.45" fill="#0000f0" stroke="#3a0000" stroke-width="0.5"/>
<g font-family="Liberation Serif, serif" font-size="9.4" fill="#222"><text x="480.4" y="360.2" textLength="46.0" lengthAdjust="spacingAndGlyphs">Well Running</text><text x="480.4" y="375.7" textLength="43.7" lengthAdjust="spacingAndGlyphs">Well Closing</text></g>
<rect x="300.6" y="509.6" width="217.4" height="48.2" fill="none" stroke="#6a6a6a" stroke-width="0.9"/>
<text x="361.6" y="538.0" font-family="Liberation Serif, serif" font-size="10.8" fill="#111" textLength="88.0" lengthAdjust="spacingAndGlyphs">XZ0+326-XZ0+500</text>
<circle cx="299.3" cy="502.2" r="3.45" fill="#f80000" stroke="#3a0000" stroke-width="0.5"/>
<circle cx="319.3" cy="502.2" r="3.45" fill="#f80000" stroke="#3a0000" stroke-width="0.5"/>
<circle cx="339.2" cy="502.2" r="3.45" fill="#0000f0" stroke="#3a0000" stroke-width="0.5"/>
<circle cx="359.2" cy="502.2" r="3.45" fill="#f80000" stroke="#3a0000" stroke-width="0.5"/>
<circle cx="379.2" cy="502.2" r="3.45" fill="#f80000" stroke="#3a0000" stroke-width="0.5"/>
<circle cx="399.2" cy="502.2" r="3.45" fill="#f80000" stroke="#3a0000" stroke-width="0.5"/>
<circle cx="419.1" cy="502.2" r="3.45" fill="#f80000" stroke="#3a0000" stroke-width="0.5"/>
<circle cx="439.1" cy="502.2" r="3.45" fill="#f80000" stroke="#3a0000" stroke-width="0.5"/>
<circle cx="459.1" cy="502.2" r="3.45" fill="#f80000" stroke="#3a0000" stroke-width="0.5"/>
<circle cx="479.1" cy="502.2" r="3.45" fill="#f80000" stroke="#3a0000" stroke-width="0.5"/>
<circle cx="499.0" cy="502.2" r="3.45" fill="#f80000" stroke="#3a0000" stroke-width="0.5"/>
<circle cx="519.0" cy="502.2" r="3.45" fill="#f80000" stroke="#3a0000" stroke-width="0.5"/>
<circle cx="299.5" cy="564.6" r="3.45" fill="#f80000" stroke="#3a0000" stroke-width="0.5"/>
<circle cx="319.5" cy="564.6" r="3.45" fill="#f80000" stroke="#3a0000" stroke-width="0.5"/>
<circle cx="339.5" cy="564.6" r="3.45" fill="#f80000" stroke="#3a0000" stroke-width="0.5"/>
<circle cx="359.5" cy="564.6" r="3.45" fill="#f80000" stroke="#3a0000" stroke-width="0.5"/>
<circle cx="379.5" cy="564.6" r="3.45" fill="#f80000" stroke="#3a0000" stroke-width="0.5"/>
<circle cx="399.5" cy="564.6" r="3.45" fill="#f80000" stroke="#3a0000" stroke-width="0.5"/>
<circle cx="419.6" cy="564.6" r="3.45" fill="#f80000" stroke="#3a0000" stroke-width="0.5"/>
<circle cx="439.6" cy="564.6" r="3.45" fill="#f80000" stroke="#3a0000" stroke-width="0.5"/>
<circle cx="459.6" cy="564.6" r="3.45" fill="#f80000" stroke="#3a0000" stroke-width="0.5"/>
<circle cx="479.6" cy="564.6" r="3.45" fill="#f80000" stroke="#3a0000" stroke-width="0.5"/>
<circle cx="499.6" cy="564.6" r="3.45" fill="#f80000" stroke="#3a0000" stroke-width="0.5"/>
<circle cx="519.6" cy="564.6" r="3.45" fill="#f80000" stroke="#3a0000" stroke-width="0.5"/>
<circle cx="292.0" cy="533.6" r="3.45" fill="#f80000" stroke="#3a0000" stroke-width="0.5"/>
<circle cx="527.0" cy="534.4" r="3.45" fill="#f80000" stroke="#3a0000" stroke-width="0.5"/>
<g font-family="Liberation Sans, sans-serif" font-size="6.7" fill="#1e1e1e" stroke="#1e1e1e" stroke-width="0.1"><text x="297.4" y="496.0" text-anchor="middle">J1</text><text x="317.4" y="496.0" text-anchor="middle">J2</text><text x="337.4" y="496.0" text-anchor="middle">J3</text><text x="357.4" y="496.0" text-anchor="middle">J4</text><text x="377.3" y="496.0" text-anchor="middle">J5</text><text x="397.3" y="496.0" text-anchor="middle">J6</text><text x="417.3" y="496.0" text-anchor="middle">J7</text><text x="437.3" y="496.0" text-anchor="middle">J8</text><text x="457.2" y="496.0" text-anchor="middle">J9</text><text x="477.2" y="496.0" text-anchor="middle">J10</text><text x="497.2" y="496.0" text-anchor="middle">J11</text><text x="517.1" y="496.0" text-anchor="middle">J12</text><text x="300.8" y="575.3" text-anchor="middle">J25</text><text x="320.8" y="575.3" text-anchor="middle">J24</text><text x="340.8" y="575.3" text-anchor="middle">J23</text><text x="360.8" y="575.3" text-anchor="middle">J22</text><text x="380.8" y="575.3" text-anchor="middle">J21</text><text x="400.8" y="575.3" text-anchor="middle">J20</text><text x="420.9" y="575.3" text-anchor="middle">J19</text><text x="440.9" y="575.3" text-anchor="middle">J18</text><text x="460.9" y="575.3" text-anchor="middle">J17</text><text x="480.9" y="575.3" text-anchor="middle">J16</text><text x="500.9" y="575.3" text-anchor="middle">J15</text><text x="520.9" y="575.3" text-anchor="middle">J14</text><text x="288.0" y="535.9" text-anchor="end">J26</text><text x="533.0" y="538.4">J13</text></g>
<circle cx="473.0" cy="583.0" r="3.45" fill="#f80000" stroke="#3a0000" stroke-width="0.5"/>
<circle cx="473.0" cy="599.6" r="3.45" fill="#0000f0" stroke="#3a0000" stroke-width="0.5"/>
<g font-family="Liberation Serif, serif" font-size="9.4" fill="#222"><text x="482.4" y="586.8" textLength="47.0" lengthAdjust="spacingAndGlyphs">Well Running</text><text x="482.4" y="602.6" textLength="44.0" lengthAdjust="spacingAndGlyphs">Well Closing</text></g>
<g font-family="Liberation Serif, serif" font-size="12.4" fill="#1c1c1c" stroke="#1c1c1c" stroke-width="0.12"><text x="4" y="203" textLength="251" lengthAdjust="spacingAndGlyphs">(<tspan font-weight="bold">a</tspan>) Pareto solution set distribution diagram when</text><text x="130" y="218.3" text-anchor="middle">closing J26 pumping well</text><text x="4" y="429.2" textLength="251" lengthAdjust="spacingAndGlyphs">(<tspan font-weight="bold">c</tspan>) Pareto solution set distribution diagram when</text><text x="130" y="444.3" text-anchor="middle">closing J16 pumping well</text><text x="4.4" y="655" textLength="251" lengthAdjust="spacingAndGlyphs">(<tspan font-weight="bold">e</tspan>) Pareto solution set distribution diagram when</text><text x="130" y="670.6" text-anchor="middle">closing J3 pumping well</text><text x="279.4" y="210.6" textLength="266" lengthAdjust="spacingAndGlyphs">(<tspan font-weight="bold">b</tspan>) Working state of pumping well when closing J26</text><text x="279.4" y="436.6" textLength="266" lengthAdjust="spacingAndGlyphs">(<tspan font-weight="bold">d</tspan>) Working state of pumping well when closing J16</text><text x="284" y="662.4" textLength="258.4" lengthAdjust="spacingAndGlyphs">(<tspan font-weight="bold">f</tspan>) Working state of pumping well when closing J3</text></g>
</svg>
</body></html>
